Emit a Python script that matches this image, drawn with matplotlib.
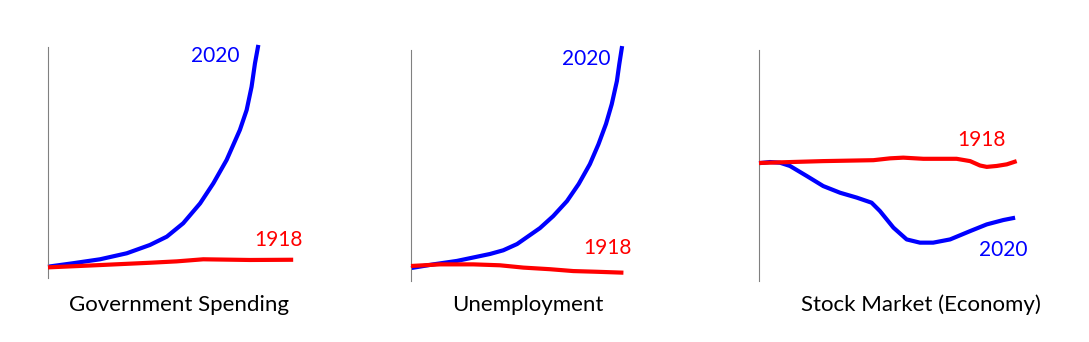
import matplotlib
matplotlib.use("Agg")
import matplotlib.pyplot as plt

plt.rcParams['font.family'] = ['Lato', 'DejaVu Sans']

W, H = 1089, 342
BLUE = "#0000ff"
RED = "#ff0000"

# Government Spending
gov_x_2020 = [0, 9.7, 20, 30.3, 39.2, 45.7, 52, 58.5, 63.6, 68.7, 73.8, 76.4, 78.3, 79.6, 80.9]
gov_y_2020 = [4.9, 6.4, 8.1, 10.7, 14.3, 17.9, 23.7, 32.3, 41, 51.1, 64.1, 72.7, 82.8, 92.9, 100.9]
gov_x_1918 = [0, 20, 39.2, 49.5, 59.7, 77.7, 94.3]
gov_y_1918 = [4.6, 5.6, 6.6, 7.2, 8.1, 7.8, 7.9]

# Unemployment
unemp_x_2020 = [0, 8.6, 17.7, 30.4, 35.5, 40.8, 49.6, 54.7, 60, 64.5, 68.8, 72.1, 75.0, 77.2, 79.2, 80.1, 81.2]
unemp_y_2020 = [5.6, 7.2, 8.7, 11.7, 13.3, 16, 22.9, 28.1, 34.6, 42.0, 50.6, 59.2, 68, 76.5, 86.6, 93.8, 101.7]
unemp_x_1918 = [0, 11.2, 24, 34.2, 43.2, 53.5, 62.4, 71.4, 81.7]
unemp_y_1918 = [6.5, 7.2, 7.2, 6.8, 5.8, 5.1, 4.3, 4.0, 3.6]

# Stock Market (Economy)
stock_x_2020 = [0, 4.2, 8.1, 11.9, 18.3, 24.7, 31.2, 37.6, 43.3, 46.5, 51.7, 56.8, 61.9, 67,
                73.5, 81.2, 87.6, 94, 98.5]
stock_y_2020 = [51, 51.5, 51.2, 49.8, 45.5, 41.1, 38.2, 36.1, 33.9, 30.3, 23.1, 18, 16.6, 16.6,
                18, 21.6, 24.5, 26.4, 27.4]
stock_x_1918 = [0, 24.6, 44, 50.4, 55.5, 63.2, 76, 81.2, 85, 87.6, 91.4, 95.3, 99.1]
stock_y_1918 = [51.1, 51.9, 52.3, 53.1, 53.4, 52.9, 52.9, 51.9, 50, 49.4, 49.8, 50.5, 51.9]

panels = [
    ("Government Spending", gov_x_2020, gov_y_2020, gov_x_1918, gov_y_1918,
     (48, 47), (179, 305), (215, 56), (278, 240)),
    ("Unemployment", unemp_x_2020, unemp_y_2020, unemp_x_1918, unemp_y_1918,
     (411, 50), (528, 305), (586, 59), (607, 248)),
    ("Stock Market (Economy)", stock_x_2020, stock_y_2020, stock_x_1918, stock_y_1918,
     (759, 50), (921, 305), (1003, 250), (981, 140)),
]

fig = plt.figure(figsize=(W / 100, H / 100), dpi=100)
fig.patch.set_facecolor("white")

for title, bx, by, rx, ry, (left, top), tpos, bpos, rpos in panels:
    ax = fig.add_axes([left / W, 1 - (top + 231) / H, 260 / W, 231 / H])
    ax.set_xlim(0, 100)
    ax.set_ylim(0, 100)
    ax.plot(bx, by, color=BLUE, lw=3.0, solid_capstyle="butt", solid_joinstyle="round",
            clip_on=False, zorder=2)
    ax.plot(rx, ry, color=RED, lw=3.0, solid_capstyle="butt", solid_joinstyle="round",
            clip_on=False, zorder=3)
    for s in ["top", "right", "bottom"]:
        ax.spines[s].set_visible(False)
    ax.spines["left"].set_color("#808080")
    ax.spines["left"].set_linewidth(0.8)
    ax.set_xticks([])
    ax.set_yticks([])
    ax.patch.set_alpha(0)
    fig.text(tpos[0] / W, 1 - tpos[1] / H, title, ha="center", va="center", fontsize=16)
    fig.text(bpos[0] / W, 1 - bpos[1] / H, "2020", ha="center", va="center", fontsize=15, color=BLUE)
    fig.text(rpos[0] / W, 1 - rpos[1] / H, "1918", ha="center", va="center", fontsize=15, color=RED)

fig.savefig("out.png", dpi=100)
